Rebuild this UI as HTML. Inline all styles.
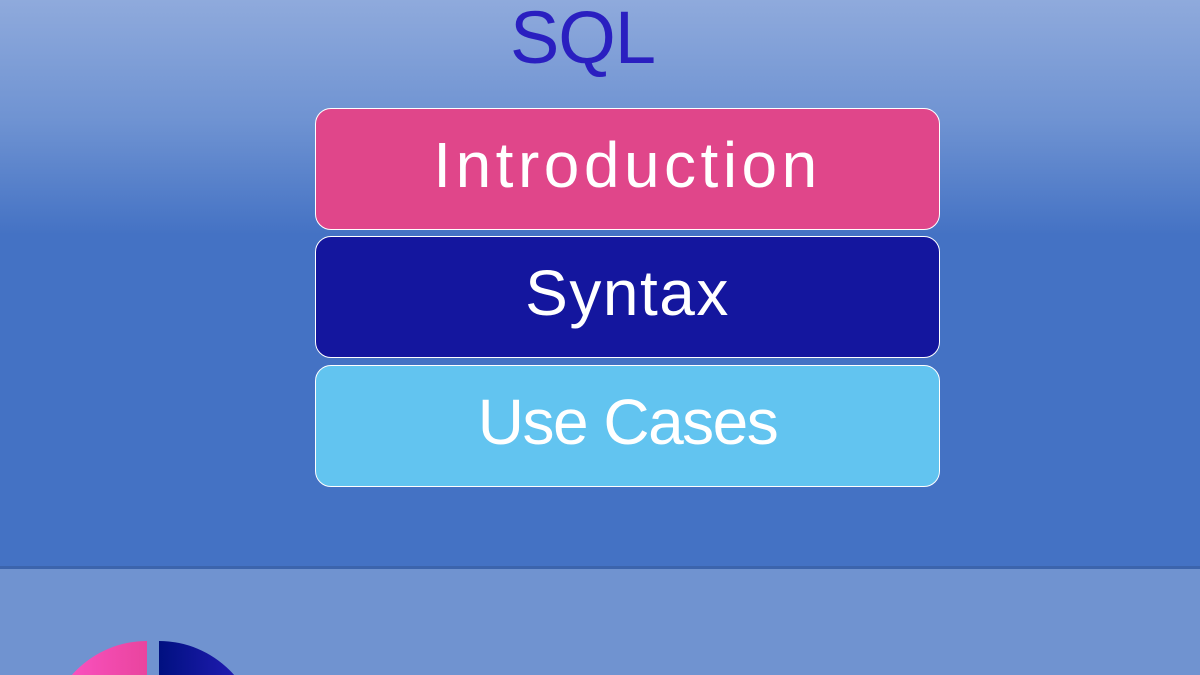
<!DOCTYPE html>
<html style="overflow:hidden"><head><style>
html,body{margin:0;width:1200px;height:675px;overflow:hidden}
body{position:relative;font-family:"Liberation Sans",sans-serif;
background:linear-gradient(#8faadc 0px,#6f93d2 120px,#4472c4 235px,#4472c4 566px);}
.bot{position:absolute;left:0;top:566px;width:1200px;height:109px;background:#7093d0;border-top:3px solid #3c64ac;box-sizing:border-box}
.t{position:absolute;left:0;width:1165px;text-align:center;top:0px;font-size:74px;color:#2a1fc0;line-height:76px;letter-spacing:-1px}
.b{position:absolute;left:315px;width:625px;height:122px;border:1.5px solid #fff;border-radius:16px;box-sizing:border-box;color:#fff;font-size:64px;text-align:center;line-height:112px;letter-spacing:1.5px}
</style></head><body>
<div class="t">SQL</div>
<div class="b" style="top:108px;background:#e0468a;letter-spacing:4.5px">Introduction</div>
<div class="b" style="top:236px;background:#14169e">Syntax</div>
<div class="b" style="top:365px;background:#62c4f0;letter-spacing:-1.5px">Use Cases</div>
<div class="bot"></div>
<svg style="position:absolute;left:0;top:0;display:block" width="1200" height="675">
<defs><linearGradient id="g1" x1="0" x2="1"><stop offset="0" stop-color="#ff55c8"/><stop offset="1" stop-color="#e9449e"/></linearGradient>
<linearGradient id="g2" x1="0" x2="1"><stop offset="0" stop-color="#001080"/><stop offset="1" stop-color="#2a1fc0"/></linearGradient></defs>
<path d="M147,741 L147,641 A100,100 0 0 0 47,741 Z" fill="url(#g1)"/>
<path d="M159,741 L159,641 A100,100 0 0 1 259,741 Z" fill="url(#g2)"/>
</svg>
</body></html>
